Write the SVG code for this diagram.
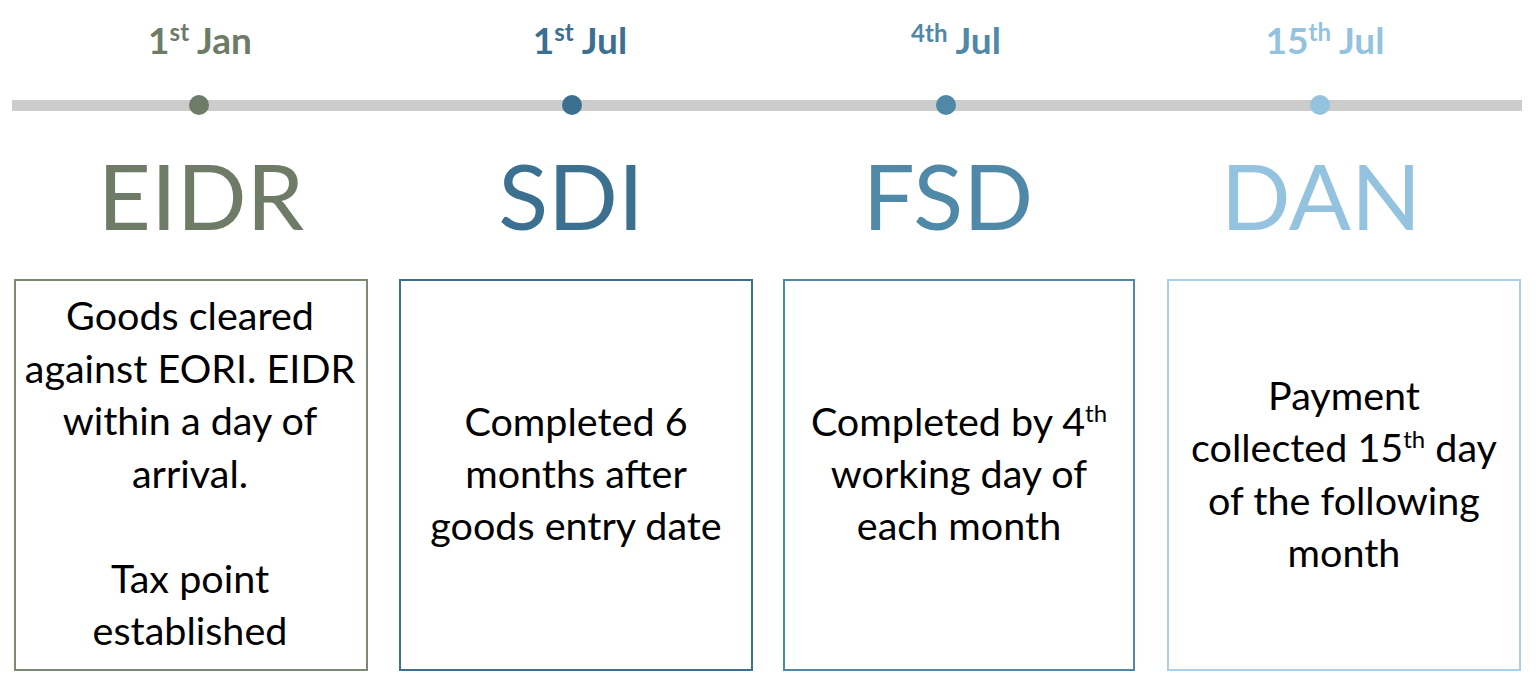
<svg xmlns="http://www.w3.org/2000/svg" width="1536" height="684" viewBox="0 0 1536 684">
<style>
.date{font-family:Lato,"Open Sans",sans-serif;font-weight:bold;font-size:37px;text-anchor:middle}
.big{font-family:Lato,"Open Sans",sans-serif;font-size:92px;text-anchor:middle}
.body{font-family:Lato,"Open Sans",sans-serif;font-size:39.5px;text-anchor:middle;fill:#000}
.box{fill:#fff;stroke-width:2}
.c1{fill:#6e7b67}.c2{fill:#3b7091}.c3{fill:#5088a8}.c4{fill:#94c3e0}
</style>
<rect width="1536" height="684" fill="#fff"/>
<g id="timeline">
<rect x="12" y="100" width="1510" height="11" fill="#cccccc"/>
</g>
<g id="n1">
<text class="date c1" x="200" y="54">1<tspan font-size="24" dy="-13">st</tspan><tspan dy="13"> Jan</tspan></text>
<circle class="c1" cx="199" cy="105" r="10"/>
<text class="big c1" x="201" y="230">EIDR</text>
<rect class="box" x="15" y="280" width="352" height="390" stroke="#7b8a73"/>
<text class="body" x="190" y="330">Goods cleared</text>
<text class="body" x="190" y="383">against EORI. EIDR</text>
<text class="body" x="190" y="435">within a day of</text>
<text class="body" x="190" y="488">arrival.</text>
<text class="body" x="190" y="593">Tax point</text>
<text class="body" x="190" y="645">established</text>
</g>
<g id="n2">
<text class="date c2" x="580" y="54">1<tspan font-size="24" dy="-13">st</tspan><tspan dy="13"> Jul</tspan></text>
<circle class="c2" cx="572" cy="105" r="10"/>
<text class="big c2" x="571" y="230">SDI</text>
<rect class="box" x="400" y="280" width="352" height="390" stroke="#3b7091"/>
<text class="body" x="576" y="436">Completed 6</text>
<text class="body" x="576" y="488">months after</text>
<text class="body" x="576" y="540">goods entry date</text>
</g>
<g id="n3">
<text class="date c3" x="956" y="54"><tspan font-size="24" dy="-12">4th</tspan><tspan dy="12"> Jul</tspan></text>
<circle class="c3" cx="946" cy="105" r="10"/>
<text class="big c3" x="948" y="230">FSD</text>
<rect class="box" x="784" y="280" width="350" height="390" stroke="#5088a8"/>
<text class="body" x="959" y="436">Completed by 4<tspan font-size="24" dy="-14">th</tspan></text>
<text class="body" x="959" y="488">working day of</text>
<text class="body" x="959" y="540">each month</text>
</g>
<g id="n4">
<text class="date c4" x="1325" y="54">15<tspan font-size="24" dy="-13">th</tspan><tspan dy="13"> Jul</tspan></text>
<circle class="c4" cx="1320" cy="105" r="10"/>
<text class="big c4" x="1321" y="230">DAN</text>
<rect class="box" x="1168" y="280" width="352" height="390" stroke="#a9d0ea"/>
<text class="body" x="1344" y="410">Payment</text>
<text class="body" x="1344" y="462">collected 15<tspan font-size="24" dy="-14">th</tspan><tspan dy="14"> day</tspan></text>
<text class="body" x="1344" y="515">of the following</text>
<text class="body" x="1344" y="567">month</text>
</g>
</svg>
